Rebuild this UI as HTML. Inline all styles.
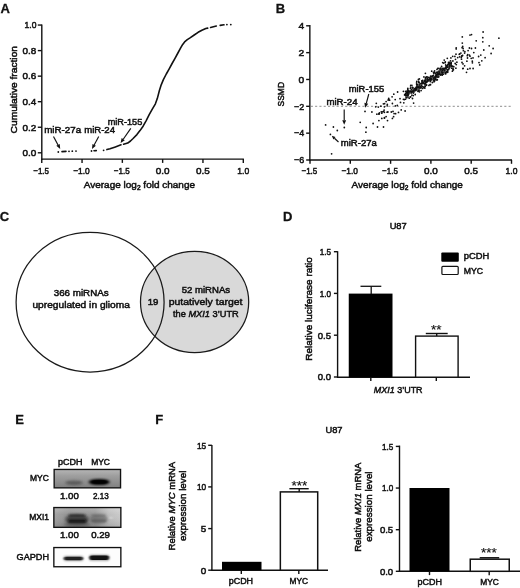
<!DOCTYPE html>
<html><head><meta charset="utf-8"><title>Figure</title>
<style>
html,body{margin:0;padding:0;background:#fff;}
body{width:520px;height:588px;overflow:hidden;}
svg{display:block;font-family:"Liberation Sans", Arial, sans-serif;fill:#111;}
</style></head><body>
<svg width="520" height="588" viewBox="0 0 520 588">
<rect width="520" height="588" fill="#fff"/>
<text x="0.5" y="13" font-size="13" font-weight="bold" stroke="#111" stroke-width="0.3">A</text>
<line x1="41.8" y1="24.4" x2="41.8" y2="159.7" stroke="#111" stroke-width="1.4" />
<line x1="41.199999999999996" y1="159.1" x2="243.9" y2="159.1" stroke="#111" stroke-width="1.4" />
<line x1="37.8" y1="25.05" x2="41.8" y2="25.05" stroke="#111" stroke-width="1.4" />
<text x="36.4" y="28.35" font-size="9.2" text-anchor="end" textLength="11.9" lengthAdjust="spacingAndGlyphs" stroke="#111" stroke-width="0.5">1.0</text>
<line x1="37.8" y1="50.6" x2="41.8" y2="50.6" stroke="#111" stroke-width="1.4" />
<text x="36.4" y="53.9" font-size="9.2" text-anchor="end" textLength="13.8" lengthAdjust="spacingAndGlyphs" stroke="#111" stroke-width="0.5">0.8</text>
<line x1="37.8" y1="76.15" x2="41.8" y2="76.15" stroke="#111" stroke-width="1.4" />
<text x="36.4" y="79.45" font-size="9.2" text-anchor="end" textLength="13.8" lengthAdjust="spacingAndGlyphs" stroke="#111" stroke-width="0.5">0.6</text>
<line x1="37.8" y1="101.7" x2="41.8" y2="101.7" stroke="#111" stroke-width="1.4" />
<text x="36.4" y="105.0" font-size="9.2" text-anchor="end" textLength="13.8" lengthAdjust="spacingAndGlyphs" stroke="#111" stroke-width="0.5">0.4</text>
<line x1="37.8" y1="127.25" x2="41.8" y2="127.25" stroke="#111" stroke-width="1.4" />
<text x="36.4" y="130.55" font-size="9.2" text-anchor="end" textLength="13.8" lengthAdjust="spacingAndGlyphs" stroke="#111" stroke-width="0.5">0.2</text>
<line x1="37.8" y1="152.8" x2="41.8" y2="152.8" stroke="#111" stroke-width="1.4" />
<text x="36.4" y="156.10000000000002" font-size="9.2" text-anchor="end" textLength="13.8" lengthAdjust="spacingAndGlyphs" stroke="#111" stroke-width="0.5">0.0</text>
<line x1="41.75" y1="159.1" x2="41.75" y2="162.9" stroke="#111" stroke-width="1.4" />
<text x="41.15" y="173.6" font-size="9.2" text-anchor="middle" textLength="15.8" lengthAdjust="spacingAndGlyphs" stroke="#111" stroke-width="0.5">−1.5</text>
<line x1="82.05" y1="159.1" x2="82.05" y2="162.9" stroke="#111" stroke-width="1.4" />
<text x="81.45" y="173.6" font-size="9.2" text-anchor="middle" textLength="16.5" lengthAdjust="spacingAndGlyphs" stroke="#111" stroke-width="0.5">−1.0</text>
<line x1="122.35" y1="159.1" x2="122.35" y2="162.9" stroke="#111" stroke-width="1.4" />
<text x="121.75" y="173.6" font-size="9.2" text-anchor="middle" textLength="15.8" lengthAdjust="spacingAndGlyphs" stroke="#111" stroke-width="0.5">−1.5</text>
<line x1="162.65" y1="159.1" x2="162.65" y2="162.9" stroke="#111" stroke-width="1.4" />
<text x="162.65" y="173.6" font-size="9.2" text-anchor="middle" textLength="13.8" lengthAdjust="spacingAndGlyphs" stroke="#111" stroke-width="0.5">0.0</text>
<line x1="202.95" y1="159.1" x2="202.95" y2="162.9" stroke="#111" stroke-width="1.4" />
<text x="202.95" y="173.6" font-size="9.2" text-anchor="middle" textLength="13.8" lengthAdjust="spacingAndGlyphs" stroke="#111" stroke-width="0.5">0.5</text>
<line x1="243.3" y1="159.1" x2="243.3" y2="162.9" stroke="#111" stroke-width="1.4" />
<text x="243.3" y="173.6" font-size="9.2" text-anchor="middle" textLength="11.9" lengthAdjust="spacingAndGlyphs" stroke="#111" stroke-width="0.5">1.0</text>
<text x="16.6" y="89.7" font-size="9.8" text-anchor="middle" textLength="87.4" lengthAdjust="spacingAndGlyphs" transform="rotate(-90 16.6 89.7)" stroke="#111" stroke-width="0.5">Cumulative fraction</text>
<text x="139.4" y="187.6" font-size="9.8" text-anchor="middle" textLength="111.3" lengthAdjust="spacingAndGlyphs" stroke="#111" stroke-width="0.5">Average log<tspan font-size="6.5" dy="2">2</tspan><tspan dy="-2"> fold change</tspan></text>
<polyline fill="none" stroke="#111" stroke-width="1.6" stroke-linejoin="round" stroke-linecap="round" points="106.9,149.6 110,148.8 115.4,146.9 121.0,144.8"/>
<polyline fill="none" stroke="#111" stroke-width="1.6" stroke-linejoin="round" stroke-linecap="round" points="123.6,144.3 127.7,143.1 130.5,141.0 133.1,138.5 136.9,134.6 140,130.6 143.1,126.2 146.2,120.6 149.2,114.6 152.3,109.2 155.4,103.8 157.3,98.6 159.4,90.5 161.3,84.6 163.5,79.4 166.3,74.0 169.2,68.8 172.1,63.5 175,58.3 177.9,53.0 180.8,47.7 182.7,44.4 184.6,41.9 187.3,39.7 190.4,37.7 194.2,35.0 198.1,32.3 201.9,30.2 205.8,28.5 207.7,28.1"/>
<line x1="210.6" y1="27.5" x2="216.3" y2="26.0" stroke="#111" stroke-width="1.6" stroke-linecap="round"/>
<line x1="220.2" y1="25.4" x2="224" y2="24.8" stroke="#111" stroke-width="1.6" stroke-linecap="round"/>
<line x1="62" y1="151.6" x2="66" y2="151.4" stroke="#111" stroke-width="1.6" stroke-linecap="round"/>
<line x1="94" y1="150.8" x2="96.3" y2="150.6" stroke="#111" stroke-width="1.6" stroke-linecap="round"/>
<circle cx="226.9" cy="24.6" r="0.9" fill="#111"/>
<circle cx="230.8" cy="24.6" r="0.9" fill="#111"/>
<circle cx="58.3" cy="152" r="0.9" fill="#111"/>
<circle cx="69" cy="151.3" r="0.9" fill="#111"/>
<circle cx="72.3" cy="151.2" r="0.9" fill="#111"/>
<circle cx="76" cy="151.1" r="0.9" fill="#111"/>
<circle cx="91.5" cy="151" r="0.9" fill="#111"/>
<circle cx="103.6" cy="150.3" r="0.9" fill="#111"/>
<text x="44.2" y="133.2" font-size="9" textLength="37" lengthAdjust="spacingAndGlyphs" stroke="#111" stroke-width="0.5">miR-27a</text>
<text x="84.2" y="133.2" font-size="9" textLength="30.8" lengthAdjust="spacingAndGlyphs" stroke="#111" stroke-width="0.5">miR-24</text>
<text x="107.7" y="124.7" font-size="9" textLength="34.6" lengthAdjust="spacingAndGlyphs" stroke="#111" stroke-width="0.5">miR-155</text>
<line x1="53.5" y1="136.5" x2="58.03" y2="144.95" stroke="#111" stroke-width="1.15" />
<polygon points="60.20,149.00 56.31,145.87 59.75,144.02" fill="#111"/>
<line x1="98.7" y1="136.5" x2="94.17" y2="144.95" stroke="#111" stroke-width="1.15" />
<polygon points="92.00,149.00 92.45,144.02 95.89,145.87" fill="#111"/>
<line x1="130.8" y1="128.3" x2="123.22" y2="139.22" stroke="#111" stroke-width="1.15" />
<polygon points="120.60,143.00 121.62,138.11 124.82,140.33" fill="#111"/>
<text x="275.8" y="12.8" font-size="13" font-weight="bold" stroke="#111" stroke-width="0.3">B</text>
<line x1="309.85" y1="25.1" x2="309.85" y2="160.7" stroke="#111" stroke-width="1.4" />
<line x1="309.25" y1="160" x2="512" y2="160" stroke="#111" stroke-width="1.4" />
<line x1="306.15000000000003" y1="25.8" x2="309.85" y2="25.8" stroke="#111" stroke-width="1.4" />
<text x="304.2" y="29.1" font-size="9.2" text-anchor="end" textLength="5.7" lengthAdjust="spacingAndGlyphs" stroke="#111" stroke-width="0.5">4</text>
<line x1="306.15000000000003" y1="52.64" x2="309.85" y2="52.64" stroke="#111" stroke-width="1.4" />
<text x="304.2" y="55.94" font-size="9.2" text-anchor="end" textLength="5.7" lengthAdjust="spacingAndGlyphs" stroke="#111" stroke-width="0.5">2</text>
<line x1="306.15000000000003" y1="79.48" x2="309.85" y2="79.48" stroke="#111" stroke-width="1.4" />
<text x="304.2" y="82.78" font-size="9.2" text-anchor="end" textLength="5.7" lengthAdjust="spacingAndGlyphs" stroke="#111" stroke-width="0.5">0</text>
<line x1="306.15000000000003" y1="106.32" x2="309.85" y2="106.32" stroke="#111" stroke-width="1.4" />
<text x="304.2" y="109.61999999999999" font-size="9.2" text-anchor="end" textLength="10.2" lengthAdjust="spacingAndGlyphs" stroke="#111" stroke-width="0.5">−2</text>
<line x1="306.15000000000003" y1="133.16" x2="309.85" y2="133.16" stroke="#111" stroke-width="1.4" />
<text x="304.2" y="136.46" font-size="9.2" text-anchor="end" textLength="10.2" lengthAdjust="spacingAndGlyphs" stroke="#111" stroke-width="0.5">−4</text>
<line x1="306.15000000000003" y1="160" x2="309.85" y2="160" stroke="#111" stroke-width="1.4" />
<text x="304.2" y="163.3" font-size="9.2" text-anchor="end" textLength="10.2" lengthAdjust="spacingAndGlyphs" stroke="#111" stroke-width="0.5">−6</text>
<line x1="310" y1="160" x2="310" y2="163.8" stroke="#111" stroke-width="1.4" />
<text x="309.4" y="173.6" font-size="9.2" text-anchor="middle" textLength="15.8" lengthAdjust="spacingAndGlyphs" stroke="#111" stroke-width="0.5">−1.5</text>
<line x1="350.3" y1="160" x2="350.3" y2="163.8" stroke="#111" stroke-width="1.4" />
<text x="349.7" y="173.6" font-size="9.2" text-anchor="middle" textLength="16.5" lengthAdjust="spacingAndGlyphs" stroke="#111" stroke-width="0.5">−1.0</text>
<line x1="390.6" y1="160" x2="390.6" y2="163.8" stroke="#111" stroke-width="1.4" />
<text x="390.0" y="173.6" font-size="9.2" text-anchor="middle" textLength="15.8" lengthAdjust="spacingAndGlyphs" stroke="#111" stroke-width="0.5">−1.5</text>
<line x1="430.9" y1="160" x2="430.9" y2="163.8" stroke="#111" stroke-width="1.4" />
<text x="430.9" y="173.6" font-size="9.2" text-anchor="middle" textLength="13.8" lengthAdjust="spacingAndGlyphs" stroke="#111" stroke-width="0.5">0.0</text>
<line x1="471.2" y1="160" x2="471.2" y2="163.8" stroke="#111" stroke-width="1.4" />
<text x="471.2" y="173.6" font-size="9.2" text-anchor="middle" textLength="13.8" lengthAdjust="spacingAndGlyphs" stroke="#111" stroke-width="0.5">0.5</text>
<line x1="511.5" y1="160" x2="511.5" y2="163.8" stroke="#111" stroke-width="1.4" />
<text x="511.5" y="173.6" font-size="9.2" text-anchor="middle" textLength="11.9" lengthAdjust="spacingAndGlyphs" stroke="#111" stroke-width="0.5">1.0</text>
<text x="284" y="94.2" font-size="9.8" text-anchor="middle" textLength="24.4" lengthAdjust="spacingAndGlyphs" transform="rotate(-90 284 94.2)" stroke="#111" stroke-width="0.5">SSMD</text>
<text x="407.2" y="187.6" font-size="9.8" text-anchor="middle" textLength="111.3" lengthAdjust="spacingAndGlyphs" stroke="#111" stroke-width="0.5">Average log<tspan font-size="6.5" dy="2">2</tspan><tspan dy="-2"> fold change</tspan></text>
<line x1="310.8" y1="106.3" x2="512" y2="106.3" stroke="#808080" stroke-width="0.9" stroke-dasharray="2.1 2.2"/>
<circle cx="325.6" cy="124.9" r="0.88" fill="#111"/>
<circle cx="333.4" cy="127.0" r="0.88" fill="#111"/>
<circle cx="337.3" cy="130.5" r="0.88" fill="#111"/>
<circle cx="344.3" cy="127.5" r="0.88" fill="#111"/>
<circle cx="330.4" cy="134.4" r="0.88" fill="#111"/>
<circle cx="331.6" cy="153.8" r="0.88" fill="#111"/>
<circle cx="360.2" cy="122.3" r="0.88" fill="#111"/>
<circle cx="366.2" cy="127.5" r="0.88" fill="#111"/>
<circle cx="365.9" cy="132.2" r="0.88" fill="#111"/>
<circle cx="365.0" cy="111.4" r="0.88" fill="#111"/>
<circle cx="371.9" cy="112.0" r="0.88" fill="#111"/>
<circle cx="373.1" cy="123.5" r="0.88" fill="#111"/>
<circle cx="377.5" cy="127.0" r="0.88" fill="#111"/>
<circle cx="383.5" cy="127.0" r="0.88" fill="#111"/>
<circle cx="378.9" cy="120.6" r="0.88" fill="#111"/>
<circle cx="381.8" cy="118.4" r="0.88" fill="#111"/>
<circle cx="386.1" cy="116.6" r="0.88" fill="#111"/>
<circle cx="387.5" cy="120.6" r="0.88" fill="#111"/>
<circle cx="378.9" cy="114.0" r="0.88" fill="#111"/>
<circle cx="381.8" cy="113.2" r="0.88" fill="#111"/>
<circle cx="384.4" cy="112.3" r="0.88" fill="#111"/>
<circle cx="387.9" cy="112.0" r="0.88" fill="#111"/>
<circle cx="391.3" cy="112.0" r="0.88" fill="#111"/>
<circle cx="393.0" cy="111.4" r="0.88" fill="#111"/>
<circle cx="395.6" cy="113.7" r="0.88" fill="#111"/>
<circle cx="375.7" cy="106.8" r="0.88" fill="#111"/>
<circle cx="378.3" cy="107.1" r="0.88" fill="#111"/>
<circle cx="380.9" cy="106.2" r="0.88" fill="#111"/>
<circle cx="384.4" cy="106.8" r="0.88" fill="#111"/>
<circle cx="376.3" cy="103.3" r="0.88" fill="#111"/>
<circle cx="386.1" cy="101.6" r="0.88" fill="#111"/>
<circle cx="389.6" cy="100.2" r="0.88" fill="#111"/>
<circle cx="388.7" cy="98.5" r="0.88" fill="#111"/>
<circle cx="498.9" cy="38.2" r="0.88" fill="#111"/>
<circle cx="483.1" cy="32.0" r="0.88" fill="#111"/>
<circle cx="482.8" cy="37.7" r="0.88" fill="#111"/>
<circle cx="482.8" cy="41.8" r="0.88" fill="#111"/>
<circle cx="471.5" cy="34.6" r="0.88" fill="#111"/>
<circle cx="470.0" cy="35.1" r="0.88" fill="#111"/>
<circle cx="462.3" cy="36.9" r="0.88" fill="#111"/>
<circle cx="462.3" cy="43.1" r="0.88" fill="#111"/>
<circle cx="476.2" cy="40.8" r="0.88" fill="#111"/>
<circle cx="475.4" cy="48.0" r="0.88" fill="#111"/>
<circle cx="489.2" cy="45.8" r="0.88" fill="#111"/>
<circle cx="493.1" cy="48.5" r="0.88" fill="#111"/>
<circle cx="491.1" cy="53.5" r="0.88" fill="#111"/>
<circle cx="483.8" cy="50.0" r="0.88" fill="#111"/>
<circle cx="480.8" cy="55.1" r="0.88" fill="#111"/>
<circle cx="485.1" cy="57.7" r="0.88" fill="#111"/>
<circle cx="481.8" cy="60.8" r="0.88" fill="#111"/>
<circle cx="479.7" cy="64.9" r="0.88" fill="#111"/>
<circle cx="471.5" cy="48.5" r="0.88" fill="#111"/>
<circle cx="473.8" cy="52.6" r="0.88" fill="#111"/>
<circle cx="470.0" cy="56.2" r="0.88" fill="#111"/>
<circle cx="472.3" cy="61.2" r="0.88" fill="#111"/>
<circle cx="466.9" cy="61.2" r="0.88" fill="#111"/>
<circle cx="464.6" cy="65.8" r="0.88" fill="#111"/>
<circle cx="467.7" cy="69.2" r="0.88" fill="#111"/>
<circle cx="470.0" cy="68.5" r="0.88" fill="#111"/>
<circle cx="473.1" cy="68.5" r="0.88" fill="#111"/>
<circle cx="466.5" cy="72.3" r="0.88" fill="#111"/>
<circle cx="456.2" cy="48.9" r="0.88" fill="#111"/>
<circle cx="463.1" cy="48.5" r="0.88" fill="#111"/>
<circle cx="464.6" cy="53.1" r="0.88" fill="#111"/>
<circle cx="467.7" cy="54.6" r="0.88" fill="#111"/>
<circle cx="461.5" cy="59.2" r="0.88" fill="#111"/>
<circle cx="406.1" cy="97.2" r="0.88" fill="#111"/>
<circle cx="406.7" cy="97.8" r="0.88" fill="#111"/>
<circle cx="405.1" cy="94.8" r="0.88" fill="#111"/>
<circle cx="405.9" cy="95.7" r="0.88" fill="#111"/>
<circle cx="405.2" cy="94.4" r="0.88" fill="#111"/>
<circle cx="406.0" cy="95.3" r="0.88" fill="#111"/>
<circle cx="406.3" cy="95.3" r="0.88" fill="#111"/>
<circle cx="405.6" cy="93.8" r="0.88" fill="#111"/>
<circle cx="408.0" cy="97.1" r="0.88" fill="#111"/>
<circle cx="405.9" cy="93.7" r="0.88" fill="#111"/>
<circle cx="409.2" cy="98.2" r="0.88" fill="#111"/>
<circle cx="407.5" cy="95.5" r="0.88" fill="#111"/>
<circle cx="407.8" cy="95.6" r="0.88" fill="#111"/>
<circle cx="407.9" cy="95.3" r="0.88" fill="#111"/>
<circle cx="405.6" cy="91.5" r="0.88" fill="#111"/>
<circle cx="406.5" cy="92.5" r="0.88" fill="#111"/>
<circle cx="408.1" cy="94.5" r="0.88" fill="#111"/>
<circle cx="407.9" cy="94.0" r="0.88" fill="#111"/>
<circle cx="407.0" cy="92.0" r="0.88" fill="#111"/>
<circle cx="408.6" cy="94.3" r="0.88" fill="#111"/>
<circle cx="407.5" cy="92.3" r="0.88" fill="#111"/>
<circle cx="410.7" cy="96.8" r="0.88" fill="#111"/>
<circle cx="407.1" cy="91.0" r="0.88" fill="#111"/>
<circle cx="408.1" cy="92.0" r="0.88" fill="#111"/>
<circle cx="408.1" cy="91.6" r="0.88" fill="#111"/>
<circle cx="412.5" cy="98.5" r="0.88" fill="#111"/>
<circle cx="409.2" cy="92.9" r="0.88" fill="#111"/>
<circle cx="408.6" cy="91.5" r="0.88" fill="#111"/>
<circle cx="408.4" cy="90.9" r="0.88" fill="#111"/>
<circle cx="407.8" cy="89.5" r="0.88" fill="#111"/>
<circle cx="409.1" cy="91.1" r="0.88" fill="#111"/>
<circle cx="411.9" cy="95.2" r="0.88" fill="#111"/>
<circle cx="407.8" cy="88.4" r="0.88" fill="#111"/>
<circle cx="411.1" cy="93.1" r="0.88" fill="#111"/>
<circle cx="410.2" cy="91.6" r="0.88" fill="#111"/>
<circle cx="410.3" cy="91.3" r="0.88" fill="#111"/>
<circle cx="413.3" cy="95.6" r="0.88" fill="#111"/>
<circle cx="410.8" cy="91.6" r="0.88" fill="#111"/>
<circle cx="411.0" cy="91.4" r="0.88" fill="#111"/>
<circle cx="411.0" cy="91.1" r="0.88" fill="#111"/>
<circle cx="411.7" cy="92.0" r="0.88" fill="#111"/>
<circle cx="412.0" cy="91.7" r="0.88" fill="#111"/>
<circle cx="411.7" cy="91.3" r="0.88" fill="#111"/>
<circle cx="413.3" cy="93.1" r="0.88" fill="#111"/>
<circle cx="410.4" cy="88.6" r="0.88" fill="#111"/>
<circle cx="412.8" cy="91.7" r="0.88" fill="#111"/>
<circle cx="413.1" cy="91.8" r="0.88" fill="#111"/>
<circle cx="411.7" cy="89.4" r="0.88" fill="#111"/>
<circle cx="415.2" cy="94.5" r="0.88" fill="#111"/>
<circle cx="410.6" cy="87.1" r="0.88" fill="#111"/>
<circle cx="413.1" cy="90.6" r="0.88" fill="#111"/>
<circle cx="414.1" cy="91.8" r="0.88" fill="#111"/>
<circle cx="413.4" cy="90.2" r="0.88" fill="#111"/>
<circle cx="413.6" cy="90.3" r="0.88" fill="#111"/>
<circle cx="410.7" cy="85.3" r="0.88" fill="#111"/>
<circle cx="412.5" cy="87.8" r="0.88" fill="#111"/>
<circle cx="412.5" cy="87.5" r="0.88" fill="#111"/>
<circle cx="412.7" cy="87.6" r="0.88" fill="#111"/>
<circle cx="414.9" cy="90.3" r="0.88" fill="#111"/>
<circle cx="411.9" cy="85.3" r="0.88" fill="#111"/>
<circle cx="414.1" cy="88.6" r="0.88" fill="#111"/>
<circle cx="415.2" cy="89.8" r="0.88" fill="#111"/>
<circle cx="415.7" cy="90.5" r="0.88" fill="#111"/>
<circle cx="415.4" cy="89.7" r="0.88" fill="#111"/>
<circle cx="415.3" cy="89.0" r="0.88" fill="#111"/>
<circle cx="415.4" cy="88.9" r="0.88" fill="#111"/>
<circle cx="415.3" cy="88.5" r="0.88" fill="#111"/>
<circle cx="416.0" cy="89.0" r="0.88" fill="#111"/>
<circle cx="416.5" cy="89.5" r="0.88" fill="#111"/>
<circle cx="416.8" cy="89.7" r="0.88" fill="#111"/>
<circle cx="418.0" cy="91.3" r="0.88" fill="#111"/>
<circle cx="418.3" cy="91.0" r="0.88" fill="#111"/>
<circle cx="416.0" cy="87.3" r="0.88" fill="#111"/>
<circle cx="416.7" cy="88.2" r="0.88" fill="#111"/>
<circle cx="416.6" cy="87.6" r="0.88" fill="#111"/>
<circle cx="419.4" cy="91.8" r="0.88" fill="#111"/>
<circle cx="418.7" cy="90.2" r="0.88" fill="#111"/>
<circle cx="416.8" cy="86.9" r="0.88" fill="#111"/>
<circle cx="419.1" cy="90.1" r="0.88" fill="#111"/>
<circle cx="418.0" cy="87.8" r="0.88" fill="#111"/>
<circle cx="417.5" cy="86.8" r="0.88" fill="#111"/>
<circle cx="417.0" cy="85.7" r="0.88" fill="#111"/>
<circle cx="418.3" cy="87.5" r="0.88" fill="#111"/>
<circle cx="416.7" cy="84.4" r="0.88" fill="#111"/>
<circle cx="418.8" cy="87.6" r="0.88" fill="#111"/>
<circle cx="421.1" cy="90.6" r="0.88" fill="#111"/>
<circle cx="419.7" cy="88.0" r="0.88" fill="#111"/>
<circle cx="416.6" cy="83.0" r="0.88" fill="#111"/>
<circle cx="417.8" cy="84.6" r="0.88" fill="#111"/>
<circle cx="419.0" cy="86.3" r="0.88" fill="#111"/>
<circle cx="419.1" cy="86.1" r="0.88" fill="#111"/>
<circle cx="420.6" cy="87.8" r="0.88" fill="#111"/>
<circle cx="416.8" cy="81.4" r="0.88" fill="#111"/>
<circle cx="421.0" cy="87.6" r="0.88" fill="#111"/>
<circle cx="419.5" cy="84.9" r="0.88" fill="#111"/>
<circle cx="420.9" cy="87.0" r="0.88" fill="#111"/>
<circle cx="420.8" cy="86.6" r="0.88" fill="#111"/>
<circle cx="422.4" cy="88.4" r="0.88" fill="#111"/>
<circle cx="418.8" cy="82.4" r="0.88" fill="#111"/>
<circle cx="421.1" cy="85.8" r="0.88" fill="#111"/>
<circle cx="419.4" cy="82.9" r="0.88" fill="#111"/>
<circle cx="418.7" cy="81.3" r="0.88" fill="#111"/>
<circle cx="420.5" cy="83.8" r="0.88" fill="#111"/>
<circle cx="421.6" cy="85.2" r="0.88" fill="#111"/>
<circle cx="422.7" cy="86.7" r="0.88" fill="#111"/>
<circle cx="418.4" cy="79.5" r="0.88" fill="#111"/>
<circle cx="424.0" cy="87.9" r="0.88" fill="#111"/>
<circle cx="421.3" cy="83.5" r="0.88" fill="#111"/>
<circle cx="423.9" cy="87.2" r="0.88" fill="#111"/>
<circle cx="424.9" cy="88.1" r="0.88" fill="#111"/>
<circle cx="424.3" cy="87.1" r="0.88" fill="#111"/>
<circle cx="419.4" cy="78.9" r="0.88" fill="#111"/>
<circle cx="422.2" cy="83.0" r="0.88" fill="#111"/>
<circle cx="422.8" cy="83.7" r="0.88" fill="#111"/>
<circle cx="422.3" cy="82.3" r="0.88" fill="#111"/>
<circle cx="422.1" cy="81.7" r="0.88" fill="#111"/>
<circle cx="425.3" cy="86.4" r="0.88" fill="#111"/>
<circle cx="421.8" cy="80.8" r="0.88" fill="#111"/>
<circle cx="423.5" cy="83.1" r="0.88" fill="#111"/>
<circle cx="425.0" cy="84.9" r="0.88" fill="#111"/>
<circle cx="423.5" cy="82.3" r="0.88" fill="#111"/>
<circle cx="424.7" cy="83.7" r="0.88" fill="#111"/>
<circle cx="422.7" cy="80.4" r="0.88" fill="#111"/>
<circle cx="425.2" cy="83.7" r="0.88" fill="#111"/>
<circle cx="426.2" cy="85.1" r="0.88" fill="#111"/>
<circle cx="424.2" cy="81.5" r="0.88" fill="#111"/>
<circle cx="426.6" cy="85.0" r="0.88" fill="#111"/>
<circle cx="425.4" cy="82.9" r="0.88" fill="#111"/>
<circle cx="425.6" cy="82.9" r="0.88" fill="#111"/>
<circle cx="424.8" cy="81.1" r="0.88" fill="#111"/>
<circle cx="424.7" cy="80.5" r="0.88" fill="#111"/>
<circle cx="425.5" cy="81.5" r="0.88" fill="#111"/>
<circle cx="426.2" cy="82.3" r="0.88" fill="#111"/>
<circle cx="425.6" cy="81.0" r="0.88" fill="#111"/>
<circle cx="426.0" cy="81.3" r="0.88" fill="#111"/>
<circle cx="428.9" cy="85.4" r="0.88" fill="#111"/>
<circle cx="426.9" cy="82.0" r="0.88" fill="#111"/>
<circle cx="423.9" cy="76.9" r="0.88" fill="#111"/>
<circle cx="425.4" cy="78.9" r="0.88" fill="#111"/>
<circle cx="427.2" cy="81.3" r="0.88" fill="#111"/>
<circle cx="425.8" cy="78.9" r="0.88" fill="#111"/>
<circle cx="427.3" cy="80.6" r="0.88" fill="#111"/>
<circle cx="430.0" cy="84.7" r="0.88" fill="#111"/>
<circle cx="425.5" cy="77.4" r="0.88" fill="#111"/>
<circle cx="430.5" cy="84.7" r="0.88" fill="#111"/>
<circle cx="427.2" cy="79.4" r="0.88" fill="#111"/>
<circle cx="427.8" cy="79.9" r="0.88" fill="#111"/>
<circle cx="428.6" cy="80.9" r="0.88" fill="#111"/>
<circle cx="427.4" cy="78.7" r="0.88" fill="#111"/>
<circle cx="426.8" cy="77.0" r="0.88" fill="#111"/>
<circle cx="428.5" cy="79.6" r="0.88" fill="#111"/>
<circle cx="427.1" cy="77.1" r="0.88" fill="#111"/>
<circle cx="430.3" cy="81.5" r="0.88" fill="#111"/>
<circle cx="429.3" cy="79.6" r="0.88" fill="#111"/>
<circle cx="425.4" cy="73.3" r="0.88" fill="#111"/>
<circle cx="430.1" cy="80.2" r="0.88" fill="#111"/>
<circle cx="428.3" cy="77.3" r="0.88" fill="#111"/>
<circle cx="430.7" cy="80.6" r="0.88" fill="#111"/>
<circle cx="429.3" cy="78.0" r="0.88" fill="#111"/>
<circle cx="432.3" cy="82.5" r="0.88" fill="#111"/>
<circle cx="430.3" cy="78.8" r="0.88" fill="#111"/>
<circle cx="430.8" cy="79.3" r="0.88" fill="#111"/>
<circle cx="430.4" cy="78.2" r="0.88" fill="#111"/>
<circle cx="431.1" cy="78.8" r="0.88" fill="#111"/>
<circle cx="431.9" cy="79.8" r="0.88" fill="#111"/>
<circle cx="431.2" cy="78.6" r="0.88" fill="#111"/>
<circle cx="431.6" cy="79.0" r="0.88" fill="#111"/>
<circle cx="430.5" cy="76.9" r="0.88" fill="#111"/>
<circle cx="434.0" cy="81.8" r="0.88" fill="#111"/>
<circle cx="430.6" cy="76.2" r="0.88" fill="#111"/>
<circle cx="433.8" cy="80.6" r="0.88" fill="#111"/>
<circle cx="431.4" cy="76.8" r="0.88" fill="#111"/>
<circle cx="434.5" cy="81.0" r="0.88" fill="#111"/>
<circle cx="433.4" cy="79.0" r="0.88" fill="#111"/>
<circle cx="434.6" cy="80.6" r="0.88" fill="#111"/>
<circle cx="432.1" cy="76.5" r="0.88" fill="#111"/>
<circle cx="433.3" cy="78.1" r="0.88" fill="#111"/>
<circle cx="432.8" cy="76.8" r="0.88" fill="#111"/>
<circle cx="432.3" cy="75.9" r="0.88" fill="#111"/>
<circle cx="435.2" cy="79.4" r="0.88" fill="#111"/>
<circle cx="434.9" cy="78.9" r="0.88" fill="#111"/>
<circle cx="435.1" cy="78.9" r="0.88" fill="#111"/>
<circle cx="434.2" cy="77.3" r="0.88" fill="#111"/>
<circle cx="434.5" cy="77.4" r="0.88" fill="#111"/>
<circle cx="433.4" cy="75.5" r="0.88" fill="#111"/>
<circle cx="436.8" cy="79.9" r="0.88" fill="#111"/>
<circle cx="435.2" cy="77.3" r="0.88" fill="#111"/>
<circle cx="435.9" cy="78.1" r="0.88" fill="#111"/>
<circle cx="437.3" cy="79.7" r="0.88" fill="#111"/>
<circle cx="435.3" cy="76.4" r="0.88" fill="#111"/>
<circle cx="431.7" cy="71.2" r="0.88" fill="#111"/>
<circle cx="435.8" cy="76.7" r="0.88" fill="#111"/>
<circle cx="433.9" cy="73.5" r="0.88" fill="#111"/>
<circle cx="436.4" cy="76.7" r="0.88" fill="#111"/>
<circle cx="433.5" cy="72.4" r="0.88" fill="#111"/>
<circle cx="435.9" cy="75.3" r="0.88" fill="#111"/>
<circle cx="437.3" cy="77.0" r="0.88" fill="#111"/>
<circle cx="434.2" cy="72.4" r="0.88" fill="#111"/>
<circle cx="436.1" cy="74.7" r="0.88" fill="#111"/>
<circle cx="436.9" cy="75.6" r="0.88" fill="#111"/>
<circle cx="436.6" cy="74.9" r="0.88" fill="#111"/>
<circle cx="435.7" cy="73.2" r="0.88" fill="#111"/>
<circle cx="438.6" cy="77.1" r="0.88" fill="#111"/>
<circle cx="434.6" cy="71.0" r="0.88" fill="#111"/>
<circle cx="437.4" cy="74.6" r="0.88" fill="#111"/>
<circle cx="438.8" cy="76.1" r="0.88" fill="#111"/>
<circle cx="436.5" cy="72.7" r="0.88" fill="#111"/>
<circle cx="438.3" cy="74.7" r="0.88" fill="#111"/>
<circle cx="436.9" cy="72.5" r="0.88" fill="#111"/>
<circle cx="437.9" cy="73.4" r="0.88" fill="#111"/>
<circle cx="438.2" cy="73.8" r="0.88" fill="#111"/>
<circle cx="438.5" cy="73.8" r="0.88" fill="#111"/>
<circle cx="437.5" cy="72.2" r="0.88" fill="#111"/>
<circle cx="438.7" cy="73.5" r="0.88" fill="#111"/>
<circle cx="438.7" cy="73.4" r="0.88" fill="#111"/>
<circle cx="439.7" cy="74.2" r="0.88" fill="#111"/>
<circle cx="440.4" cy="75.0" r="0.88" fill="#111"/>
<circle cx="439.5" cy="73.3" r="0.88" fill="#111"/>
<circle cx="437.0" cy="69.4" r="0.88" fill="#111"/>
<circle cx="439.2" cy="72.2" r="0.88" fill="#111"/>
<circle cx="440.9" cy="74.2" r="0.88" fill="#111"/>
<circle cx="438.9" cy="71.2" r="0.88" fill="#111"/>
<circle cx="441.6" cy="74.5" r="0.88" fill="#111"/>
<circle cx="442.3" cy="75.1" r="0.88" fill="#111"/>
<circle cx="442.0" cy="74.6" r="0.88" fill="#111"/>
<circle cx="437.8" cy="68.3" r="0.88" fill="#111"/>
<circle cx="441.1" cy="72.5" r="0.88" fill="#111"/>
<circle cx="440.1" cy="70.9" r="0.88" fill="#111"/>
<circle cx="442.4" cy="73.8" r="0.88" fill="#111"/>
<circle cx="438.9" cy="68.4" r="0.88" fill="#111"/>
<circle cx="443.2" cy="74.2" r="0.88" fill="#111"/>
<circle cx="440.1" cy="69.5" r="0.88" fill="#111"/>
<circle cx="442.4" cy="72.6" r="0.88" fill="#111"/>
<circle cx="441.9" cy="71.5" r="0.88" fill="#111"/>
<circle cx="442.9" cy="72.6" r="0.88" fill="#111"/>
<circle cx="440.4" cy="68.7" r="0.88" fill="#111"/>
<circle cx="441.5" cy="69.9" r="0.88" fill="#111"/>
<circle cx="440.7" cy="68.7" r="0.88" fill="#111"/>
<circle cx="442.6" cy="70.7" r="0.88" fill="#111"/>
<circle cx="440.9" cy="68.1" r="0.88" fill="#111"/>
<circle cx="445.2" cy="73.7" r="0.88" fill="#111"/>
<circle cx="444.0" cy="71.9" r="0.88" fill="#111"/>
<circle cx="442.9" cy="70.0" r="0.88" fill="#111"/>
<circle cx="445.8" cy="73.7" r="0.88" fill="#111"/>
<circle cx="445.3" cy="72.5" r="0.88" fill="#111"/>
<circle cx="443.3" cy="69.6" r="0.88" fill="#111"/>
<circle cx="442.7" cy="68.4" r="0.88" fill="#111"/>
<circle cx="441.6" cy="66.4" r="0.88" fill="#111"/>
<circle cx="444.9" cy="70.7" r="0.88" fill="#111"/>
<circle cx="444.6" cy="70.1" r="0.88" fill="#111"/>
<circle cx="443.8" cy="68.5" r="0.88" fill="#111"/>
<circle cx="446.4" cy="72.0" r="0.88" fill="#111"/>
<circle cx="444.4" cy="68.9" r="0.88" fill="#111"/>
<circle cx="447.2" cy="72.3" r="0.88" fill="#111"/>
<circle cx="444.6" cy="68.3" r="0.88" fill="#111"/>
<circle cx="447.0" cy="71.4" r="0.88" fill="#111"/>
<circle cx="447.7" cy="72.1" r="0.88" fill="#111"/>
<circle cx="447.6" cy="71.8" r="0.88" fill="#111"/>
<circle cx="446.0" cy="68.9" r="0.88" fill="#111"/>
<circle cx="445.7" cy="68.3" r="0.88" fill="#111"/>
<circle cx="447.6" cy="70.6" r="0.88" fill="#111"/>
<circle cx="445.7" cy="67.8" r="0.88" fill="#111"/>
<circle cx="447.2" cy="69.6" r="0.88" fill="#111"/>
<circle cx="446.1" cy="67.5" r="0.88" fill="#111"/>
<circle cx="442.7" cy="62.6" r="0.88" fill="#111"/>
<circle cx="446.1" cy="67.0" r="0.88" fill="#111"/>
<circle cx="443.7" cy="63.1" r="0.88" fill="#111"/>
<circle cx="446.9" cy="67.3" r="0.88" fill="#111"/>
<circle cx="448.6" cy="69.5" r="0.88" fill="#111"/>
<circle cx="446.2" cy="65.9" r="0.88" fill="#111"/>
<circle cx="445.7" cy="64.9" r="0.88" fill="#111"/>
<circle cx="447.7" cy="67.3" r="0.88" fill="#111"/>
<circle cx="447.0" cy="66.0" r="0.88" fill="#111"/>
<circle cx="449.1" cy="68.4" r="0.88" fill="#111"/>
<circle cx="448.0" cy="66.9" r="0.88" fill="#111"/>
<circle cx="445.2" cy="62.6" r="0.88" fill="#111"/>
<circle cx="447.7" cy="65.5" r="0.88" fill="#111"/>
<circle cx="445.3" cy="61.9" r="0.88" fill="#111"/>
<circle cx="444.2" cy="60.1" r="0.88" fill="#111"/>
<circle cx="452.4" cy="71.2" r="0.88" fill="#111"/>
<circle cx="447.9" cy="64.6" r="0.88" fill="#111"/>
<circle cx="449.6" cy="66.8" r="0.88" fill="#111"/>
<circle cx="449.9" cy="66.9" r="0.88" fill="#111"/>
<circle cx="448.4" cy="64.2" r="0.88" fill="#111"/>
<circle cx="449.4" cy="65.5" r="0.88" fill="#111"/>
<circle cx="451.6" cy="68.2" r="0.88" fill="#111"/>
<circle cx="453.0" cy="69.9" r="0.88" fill="#111"/>
<circle cx="449.2" cy="64.1" r="0.88" fill="#111"/>
<circle cx="453.4" cy="69.7" r="0.88" fill="#111"/>
<circle cx="448.5" cy="62.5" r="0.88" fill="#111"/>
<circle cx="453.0" cy="68.4" r="0.88" fill="#111"/>
<circle cx="451.5" cy="66.0" r="0.88" fill="#111"/>
<circle cx="450.1" cy="63.7" r="0.88" fill="#111"/>
<circle cx="449.9" cy="63.3" r="0.88" fill="#111"/>
<circle cx="452.5" cy="66.3" r="0.88" fill="#111"/>
<circle cx="452.6" cy="66.3" r="0.88" fill="#111"/>
<circle cx="451.1" cy="64.0" r="0.88" fill="#111"/>
<circle cx="447.3" cy="58.3" r="0.88" fill="#111"/>
<circle cx="451.2" cy="63.3" r="0.88" fill="#111"/>
<circle cx="453.8" cy="66.7" r="0.88" fill="#111"/>
<circle cx="376.9" cy="114.2" r="0.88" fill="#111"/>
<circle cx="379.1" cy="113.9" r="0.88" fill="#111"/>
<circle cx="379.4" cy="113.0" r="0.88" fill="#111"/>
<circle cx="384.4" cy="118.1" r="0.88" fill="#111"/>
<circle cx="381.3" cy="111.8" r="0.88" fill="#111"/>
<circle cx="382.2" cy="111.8" r="0.88" fill="#111"/>
<circle cx="383.6" cy="111.4" r="0.88" fill="#111"/>
<circle cx="384.1" cy="110.1" r="0.88" fill="#111"/>
<circle cx="387.1" cy="112.2" r="0.88" fill="#111"/>
<circle cx="383.4" cy="103.8" r="0.88" fill="#111"/>
<circle cx="384.6" cy="103.7" r="0.88" fill="#111"/>
<circle cx="387.2" cy="105.8" r="0.88" fill="#111"/>
<circle cx="387.3" cy="104.4" r="0.88" fill="#111"/>
<circle cx="394.1" cy="113.6" r="0.88" fill="#111"/>
<circle cx="388.1" cy="100.1" r="0.88" fill="#111"/>
<circle cx="388.7" cy="99.5" r="0.88" fill="#111"/>
<circle cx="392.4" cy="103.5" r="0.88" fill="#111"/>
<circle cx="395.4" cy="105.9" r="0.88" fill="#111"/>
<circle cx="397.3" cy="105.3" r="0.88" fill="#111"/>
<circle cx="392.1" cy="96.8" r="0.88" fill="#111"/>
<circle cx="395.2" cy="99.6" r="0.88" fill="#111"/>
<circle cx="393.8" cy="94.2" r="0.88" fill="#111"/>
<circle cx="400.5" cy="102.4" r="0.88" fill="#111"/>
<circle cx="400.0" cy="98.7" r="0.88" fill="#111"/>
<circle cx="403.8" cy="102.8" r="0.88" fill="#111"/>
<circle cx="397.6" cy="92.0" r="0.88" fill="#111"/>
<circle cx="403.4" cy="99.3" r="0.88" fill="#111"/>
<circle cx="405.5" cy="99.2" r="0.88" fill="#111"/>
<circle cx="404.6" cy="94.9" r="0.88" fill="#111"/>
<circle cx="403.4" cy="91.3" r="0.88" fill="#111"/>
<circle cx="406.0" cy="94.0" r="0.88" fill="#111"/>
<circle cx="407.7" cy="93.6" r="0.88" fill="#111"/>
<circle cx="410.3" cy="96.9" r="0.88" fill="#111"/>
<circle cx="408.2" cy="91.1" r="0.88" fill="#111"/>
<circle cx="384.5" cy="117.7" r="0.88" fill="#111"/>
<circle cx="392.4" cy="118.4" r="0.88" fill="#111"/>
<circle cx="393.6" cy="116.7" r="0.88" fill="#111"/>
<circle cx="398.5" cy="112.4" r="0.88" fill="#111"/>
<circle cx="401.2" cy="109.9" r="0.88" fill="#111"/>
<circle cx="405.1" cy="111.0" r="0.88" fill="#111"/>
<circle cx="404.4" cy="99.6" r="0.88" fill="#111"/>
<circle cx="413.6" cy="103.1" r="0.88" fill="#111"/>
<circle cx="448.8" cy="64.0" r="0.88" fill="#111"/>
<circle cx="450.9" cy="65.5" r="0.88" fill="#111"/>
<circle cx="451.0" cy="63.7" r="0.88" fill="#111"/>
<circle cx="449.6" cy="62.4" r="0.88" fill="#111"/>
<circle cx="451.2" cy="62.3" r="0.88" fill="#111"/>
<circle cx="450.5" cy="60.8" r="0.88" fill="#111"/>
<circle cx="455.2" cy="63.5" r="0.88" fill="#111"/>
<circle cx="452.9" cy="61.0" r="0.88" fill="#111"/>
<circle cx="450.9" cy="57.9" r="0.88" fill="#111"/>
<circle cx="456.9" cy="62.2" r="0.88" fill="#111"/>
<circle cx="455.5" cy="59.3" r="0.88" fill="#111"/>
<circle cx="452.7" cy="56.3" r="0.88" fill="#111"/>
<circle cx="454.9" cy="56.4" r="0.88" fill="#111"/>
<circle cx="462.0" cy="62.5" r="0.88" fill="#111"/>
<circle cx="457.7" cy="57.6" r="0.88" fill="#111"/>
<circle cx="456.0" cy="54.2" r="0.88" fill="#111"/>
<circle cx="459.6" cy="56.8" r="0.88" fill="#111"/>
<circle cx="461.3" cy="57.4" r="0.88" fill="#111"/>
<circle cx="461.6" cy="56.3" r="0.88" fill="#111"/>
<circle cx="459.8" cy="53.9" r="0.88" fill="#111"/>
<circle cx="462.6" cy="55.4" r="0.88" fill="#111"/>
<circle cx="460.9" cy="53.1" r="0.88" fill="#111"/>
<circle cx="456.2" cy="47.8" r="0.88" fill="#111"/>
<circle cx="467.3" cy="55.7" r="0.88" fill="#111"/>
<circle cx="471.2" cy="58.3" r="0.88" fill="#111"/>
<circle cx="463.4" cy="50.7" r="0.88" fill="#111"/>
<circle cx="469.4" cy="55.1" r="0.88" fill="#111"/>
<circle cx="462.1" cy="47.7" r="0.88" fill="#111"/>
<circle cx="462.7" cy="46.5" r="0.88" fill="#111"/>
<circle cx="468.1" cy="50.6" r="0.88" fill="#111"/>
<circle cx="455.9" cy="68.2" r="0.88" fill="#111"/>
<circle cx="456.3" cy="64.6" r="0.88" fill="#111"/>
<circle cx="462.8" cy="68.6" r="0.88" fill="#111"/>
<circle cx="463.2" cy="68.3" r="0.88" fill="#111"/>
<circle cx="463.0" cy="63.9" r="0.88" fill="#111"/>
<circle cx="459.2" cy="54.3" r="0.88" fill="#111"/>
<circle cx="461.8" cy="56.0" r="0.88" fill="#111"/>
<circle cx="467.5" cy="58.0" r="0.88" fill="#111"/>
<circle cx="464.9" cy="51.7" r="0.88" fill="#111"/>
<circle cx="472.4" cy="62.8" r="0.88" fill="#111"/>
<circle cx="473.0" cy="57.9" r="0.88" fill="#111"/>
<circle cx="469.4" cy="48.0" r="0.88" fill="#111"/>
<circle cx="479.0" cy="62.6" r="0.88" fill="#111"/>
<circle cx="478.6" cy="56.5" r="0.88" fill="#111"/>
<text x="348.7" y="91.9" font-size="9" textLength="35.5" lengthAdjust="spacingAndGlyphs" stroke="#111" stroke-width="0.5">miR-155</text>
<text x="326.4" y="104.8" font-size="9" textLength="31.2" lengthAdjust="spacingAndGlyphs" stroke="#111" stroke-width="0.5">miR-24</text>
<text x="340.8" y="146.1" font-size="9" textLength="36" lengthAdjust="spacingAndGlyphs" stroke="#111" stroke-width="0.5">miR-27a</text>
<line x1="368.8" y1="94" x2="366.29" y2="103.36" stroke="#111" stroke-width="1.15" />
<polygon points="365.10,107.80 364.41,102.85 368.17,103.86" fill="#111"/>
<line x1="344.2" y1="109.6" x2="344.2" y2="120.2" stroke="#111" stroke-width="1.15" />
<polygon points="344.20,124.80 342.25,120.20 346.15,120.20" fill="#111"/>
<line x1="338.5" y1="142" x2="334.44" y2="138.25" stroke="#111" stroke-width="1.15" />
<polygon points="331.80,135.80 335.53,137.07 333.36,139.42" fill="#111"/>
<text x="-0.3" y="221" font-size="13" font-weight="bold" stroke="#111" stroke-width="0.3">C</text>
<ellipse cx="194.6" cy="301.9" rx="54.1" ry="50.6" fill="#d9d9d9" stroke="#1a1a1a" stroke-width="1.25"/>
<ellipse cx="90.1" cy="302.2" rx="74" ry="69.8" fill="none" stroke="#1a1a1a" stroke-width="1.25"/>
<text x="81.2" y="296.4" font-size="9.6" text-anchor="middle" textLength="55" lengthAdjust="spacingAndGlyphs" stroke="#111" stroke-width="0.5">366 miRNAs</text>
<text x="81.2" y="308.4" font-size="9.6" text-anchor="middle" textLength="97.5" lengthAdjust="spacingAndGlyphs" stroke="#111" stroke-width="0.5">upregulated in glioma</text>
<text x="153" y="305.4" font-size="9.6" text-anchor="middle" stroke="#111" stroke-width="0.5">19</text>
<text x="205.9" y="293.4" font-size="9.6" text-anchor="middle" textLength="48.5" lengthAdjust="spacingAndGlyphs" stroke="#111" stroke-width="0.5">52 miRNAs</text>
<text x="205.6" y="305.4" font-size="9.6" text-anchor="middle" textLength="73.8" lengthAdjust="spacingAndGlyphs" stroke="#111" stroke-width="0.5">putatively target</text>
<text x="205.9" y="317.2" font-size="9.6" text-anchor="middle" textLength="65.8" lengthAdjust="spacingAndGlyphs" stroke="#111" stroke-width="0.5">the <tspan font-style="italic">MXI1</tspan> 3’UTR</text>
<text x="283" y="220.8" font-size="13" font-weight="bold" stroke="#111" stroke-width="0.3">D</text>
<text x="398.2" y="229.1" font-size="9.3" text-anchor="middle" stroke="#111" stroke-width="0.5">U87</text>
<line x1="337.6" y1="251.2" x2="337.6" y2="377.8" stroke="#111" stroke-width="1.4" />
<line x1="337.0" y1="377.2" x2="470" y2="377.2" stroke="#111" stroke-width="1.4" />
<line x1="333.90000000000003" y1="251.7" x2="337.6" y2="251.7" stroke="#111" stroke-width="1.4" />
<text x="331" y="255.0" font-size="9.2" text-anchor="end" textLength="11.3" lengthAdjust="spacingAndGlyphs" stroke="#111" stroke-width="0.5">1.5</text>
<line x1="333.90000000000003" y1="293.4" x2="337.6" y2="293.4" stroke="#111" stroke-width="1.4" />
<text x="331" y="296.7" font-size="9.2" text-anchor="end" textLength="11.3" lengthAdjust="spacingAndGlyphs" stroke="#111" stroke-width="0.5">1.0</text>
<line x1="333.90000000000003" y1="335.2" x2="337.6" y2="335.2" stroke="#111" stroke-width="1.4" />
<text x="331" y="338.5" font-size="9.2" text-anchor="end" textLength="13.3" lengthAdjust="spacingAndGlyphs" stroke="#111" stroke-width="0.5">0.5</text>
<line x1="333.90000000000003" y1="377.0" x2="337.6" y2="377.0" stroke="#111" stroke-width="1.4" />
<text x="331" y="380.3" font-size="9.2" text-anchor="end" textLength="13.3" lengthAdjust="spacingAndGlyphs" stroke="#111" stroke-width="0.5">0.0</text>
<rect x="348.75" y="293.6" width="43.75" height="83.59999999999997" fill="#000"/>
<line x1="371.2" y1="286.3" x2="371.2" y2="294" stroke="#111" stroke-width="1.3" />
<line x1="360.5" y1="286.3" x2="381.3" y2="286.3" stroke="#111" stroke-width="1.3" />
<rect x="415.6" y="336.1" width="42.5" height="41.099999999999966" fill="#fff" stroke="#111" stroke-width="1.4"/>
<line x1="436.7" y1="333.5" x2="436.7" y2="336" stroke="#111" stroke-width="1.4" />
<line x1="425.8" y1="333.5" x2="447.7" y2="333.5" stroke="#111" stroke-width="1.4" />
<line x1="370.8" y1="377.2" x2="370.8" y2="381.0" stroke="#111" stroke-width="1.4" />
<line x1="436.3" y1="377.2" x2="436.3" y2="381.0" stroke="#111" stroke-width="1.4" />
<text x="436.2" y="334.3" font-size="13.5" text-anchor="middle" stroke="#111" stroke-width="0.15">**</text>
<text x="398.2" y="392.8" font-size="9.3" text-anchor="middle" textLength="48.8" lengthAdjust="spacingAndGlyphs" stroke="#111" stroke-width="0.5"><tspan font-style="italic">MXI1</tspan> 3’UTR</text>
<text x="311.5" y="309" font-size="9.8" text-anchor="middle" textLength="103.5" lengthAdjust="spacingAndGlyphs" transform="rotate(-90 311.5 309)" stroke="#111" stroke-width="0.5">Relative luciferase ratio</text>
<rect x="441.3" y="252.5" width="17.5" height="9.3" rx="1" fill="#000"/>
<rect x="441.9" y="266.3" width="16.3" height="8.2" rx="1" fill="#fff" stroke="#111" stroke-width="1.2"/>
<text x="463.7" y="259.2" font-size="9.3" textLength="25.5" lengthAdjust="spacingAndGlyphs" stroke="#111" stroke-width="0.5">pCDH</text>
<text x="463.7" y="273.8" font-size="9.3" textLength="19.3" lengthAdjust="spacingAndGlyphs" stroke="#111" stroke-width="0.5">MYC</text>
<text x="15.2" y="424.2" font-size="13" font-weight="bold" stroke="#111" stroke-width="0.3">E</text>
<text x="58" y="464.6" font-size="9.3" textLength="24.5" lengthAdjust="spacingAndGlyphs" stroke="#111" stroke-width="0.5">pCDH</text>
<text x="91.2" y="464.6" font-size="9.3" textLength="18.8" lengthAdjust="spacingAndGlyphs" stroke="#111" stroke-width="0.5">MYC</text>
<text x="30" y="481.1" font-size="9.3" textLength="18.8" lengthAdjust="spacingAndGlyphs" stroke="#111" stroke-width="0.5">MYC</text>
<text x="29.2" y="520.2" font-size="9.3" textLength="19.8" lengthAdjust="spacingAndGlyphs" stroke="#111" stroke-width="0.5">MXI1</text>
<text x="16.6" y="560.2" font-size="9.3" textLength="32.4" lengthAdjust="spacingAndGlyphs" stroke="#111" stroke-width="0.5">GAPDH</text>
<text x="60" y="499" font-size="9.3" textLength="18.8" lengthAdjust="spacingAndGlyphs" stroke="#111" stroke-width="0.5">1.00</text>
<text x="93" y="499" font-size="9.3" textLength="15.8" lengthAdjust="spacingAndGlyphs" stroke="#111" stroke-width="0.5">2.13</text>
<text x="60" y="538.3" font-size="9.3" textLength="18.8" lengthAdjust="spacingAndGlyphs" stroke="#111" stroke-width="0.5">1.00</text>
<text x="91.2" y="538.3" font-size="9.3" textLength="18.8" lengthAdjust="spacingAndGlyphs" stroke="#111" stroke-width="0.5">0.29</text>
<defs>
<linearGradient id="g1" x1="0" y1="0" x2="0" y2="1"><stop offset="0" stop-color="#b6b6b6"/><stop offset="0.35" stop-color="#9e9e9e"/><stop offset="1" stop-color="#808080"/></linearGradient>
<linearGradient id="g2" x1="0" y1="0" x2="1" y2="0"><stop offset="0" stop-color="#a0a0a0"/><stop offset="0.25" stop-color="#8c8c8c"/><stop offset="0.62" stop-color="#949494"/><stop offset="0.82" stop-color="#bcbcbc"/><stop offset="1" stop-color="#c8c8c8"/></linearGradient>
<linearGradient id="g2v" x1="0" y1="0" x2="0" y2="1"><stop offset="0" stop-color="#fff" stop-opacity="0.28"/><stop offset="0.35" stop-color="#fff" stop-opacity="0.05"/><stop offset="1" stop-color="#000" stop-opacity="0.12"/></linearGradient>
<filter id="bl" x="-30%" y="-100%" width="160%" height="300%"><feGaussianBlur stdDeviation="1.8 1.2"/></filter>
<filter id="bl2" x="-30%" y="-100%" width="160%" height="300%"><feGaussianBlur stdDeviation="1.3 0.8"/></filter>
<filter id="bl3" x="-30%" y="-100%" width="160%" height="300%"><feGaussianBlur stdDeviation="0.9 0.6"/></filter>
<clipPath id="c1"><rect x="54.15" y="469.45" width="66.4" height="18.4"/></clipPath>
<clipPath id="c2"><rect x="53.85" y="507.55" width="67" height="19.8"/></clipPath>
<clipPath id="c3"><rect x="53.85" y="547.55" width="67" height="19.2"/></clipPath>
</defs>
<rect x="54.15" y="469.45" width="66.4" height="18.4" fill="url(#g1)"/>
<g clip-path="url(#c1)"><ellipse cx="74" cy="482.8" rx="8.5" ry="2.4" fill="#484848" opacity="0.7" filter="url(#bl)"/><ellipse cx="99.2" cy="482" rx="10.5" ry="3.1" fill="#000" filter="url(#bl)"/><rect x="92" y="480.3" width="14.5" height="3.2" rx="1.6" fill="#000" filter="url(#bl3)"/></g>
<rect x="54.15" y="469.45" width="66.4" height="18.4" fill="none" stroke="#111" stroke-width="1.35"/>
<rect x="53.85" y="507.55" width="67" height="19.8" fill="url(#g2)"/>
<rect x="53.85" y="507.55" width="67" height="19.8" fill="url(#g2v)"/>
<g clip-path="url(#c2)"><ellipse cx="77" cy="519.5" rx="12" ry="5.5" fill="#404040" opacity="0.75" filter="url(#bl)"/><ellipse cx="77" cy="524.5" rx="13" ry="3" fill="#505050" opacity="0.6" filter="url(#bl)"/><rect x="68.5" y="514.4" width="17" height="2.8" rx="1.4" fill="#262626" opacity="0.85" filter="url(#bl2)"/><rect x="68" y="519.3" width="18.5" height="3.2" rx="1.6" fill="#0c0c0c" filter="url(#bl2)"/><ellipse cx="98.8" cy="519" rx="9" ry="4.5" fill="#606060" opacity="0.5" filter="url(#bl)"/><rect x="91" y="514.5" width="15" height="2.2" rx="1.1" fill="#555" opacity="0.5" filter="url(#bl2)"/><rect x="91" y="519.6" width="15.5" height="2.6" rx="1.3" fill="#484848" opacity="0.6" filter="url(#bl2)"/><ellipse cx="111" cy="517.7" rx="2" ry="1.5" fill="#e0e0e0" opacity="0.45" filter="url(#bl3)"/></g>
<rect x="53.85" y="507.55" width="67" height="19.8" fill="none" stroke="#111" stroke-width="1.35"/>
<rect x="53.85" y="547.55" width="67" height="19.2" fill="#fdfdfd"/>
<g clip-path="url(#c3)"><rect x="64.2" y="556.7" width="18.5" height="3.5" rx="1.75" fill="#0a0a0a" filter="url(#bl3)"/><rect x="63.5" y="556.3" width="20" height="4.4" rx="2.2" fill="#333" opacity="0.55" filter="url(#bl2)"/><rect x="89.6" y="555.4" width="19.2" height="4.7" rx="2.3" fill="#000" filter="url(#bl3)"/><rect x="89" y="555" width="20.4" height="5.6" rx="2.8" fill="#222" opacity="0.55" filter="url(#bl2)"/></g>
<rect x="53.85" y="547.55" width="67" height="19.2" fill="none" stroke="#111" stroke-width="1.35"/>
<text x="155.3" y="424.4" font-size="13" font-weight="bold" stroke="#111" stroke-width="0.3">F</text>
<text x="334" y="433.3" font-size="9.3" text-anchor="middle" stroke="#111" stroke-width="0.5">U87</text>
<line x1="211.9" y1="445" x2="211.9" y2="570.8000000000001" stroke="#111" stroke-width="1.4" />
<line x1="211.3" y1="570.2" x2="328" y2="570.2" stroke="#111" stroke-width="1.4" />
<line x1="208.20000000000002" y1="445.3" x2="211.9" y2="445.3" stroke="#111" stroke-width="1.4" />
<text x="206.2" y="448.6" font-size="9.2" text-anchor="end" textLength="9.2" lengthAdjust="spacingAndGlyphs" stroke="#111" stroke-width="0.5">15</text>
<line x1="208.20000000000002" y1="486.9" x2="211.9" y2="486.9" stroke="#111" stroke-width="1.4" />
<text x="206.2" y="490.2" font-size="9.2" text-anchor="end" textLength="9.2" lengthAdjust="spacingAndGlyphs" stroke="#111" stroke-width="0.5">10</text>
<line x1="208.20000000000002" y1="528.6" x2="211.9" y2="528.6" stroke="#111" stroke-width="1.4" />
<text x="206.2" y="531.9" font-size="9.2" text-anchor="end" textLength="5.5" lengthAdjust="spacingAndGlyphs" stroke="#111" stroke-width="0.5">5</text>
<line x1="208.20000000000002" y1="570.2" x2="211.9" y2="570.2" stroke="#111" stroke-width="1.4" />
<text x="206.2" y="573.5" font-size="9.2" text-anchor="end" textLength="5.5" lengthAdjust="spacingAndGlyphs" stroke="#111" stroke-width="0.5">0</text>
<rect x="222" y="561.8" width="39.5" height="8.400000000000091" fill="#000"/>
<rect x="280.35" y="491.9" width="37.35" height="78.30000000000007" fill="#fff" stroke="#111" stroke-width="1.5"/>
<line x1="299.2" y1="488.7" x2="299.2" y2="491.9" stroke="#111" stroke-width="1.4" />
<line x1="289.4" y1="488.7" x2="308.7" y2="488.7" stroke="#111" stroke-width="1.4" />
<line x1="241.3" y1="570.2" x2="241.3" y2="574.0" stroke="#111" stroke-width="1.4" />
<line x1="298.8" y1="570.2" x2="298.8" y2="574.0" stroke="#111" stroke-width="1.4" />
<text x="299.5" y="489.9" font-size="13.5" text-anchor="middle" stroke="#111" stroke-width="0.15">***</text>
<text x="240.9" y="583.9" font-size="9.3" text-anchor="middle" textLength="24.3" lengthAdjust="spacingAndGlyphs" stroke="#111" stroke-width="0.5">pCDH</text>
<text x="298.8" y="583.9" font-size="9.3" text-anchor="middle" textLength="18.6" lengthAdjust="spacingAndGlyphs" stroke="#111" stroke-width="0.5">MYC</text>
<text x="174.6" y="506.1" font-size="9.8" text-anchor="middle" textLength="88.6" lengthAdjust="spacingAndGlyphs" transform="rotate(-90 174.6 506.1)" stroke="#111" stroke-width="0.5">Relative <tspan font-style="italic">MYC</tspan> mRNA</text>
<text x="185.7" y="505.8" font-size="9.8" text-anchor="middle" textLength="70.3" lengthAdjust="spacingAndGlyphs" transform="rotate(-90 185.7 505.8)" stroke="#111" stroke-width="0.5">expression level</text>
<line x1="399.5" y1="445.6" x2="399.5" y2="571.9" stroke="#111" stroke-width="1.4" />
<line x1="398.9" y1="571.3" x2="520" y2="571.3" stroke="#111" stroke-width="1.4" />
<line x1="395.8" y1="446.4" x2="399.5" y2="446.4" stroke="#111" stroke-width="1.4" />
<text x="393.2" y="449.7" font-size="9.2" text-anchor="end" textLength="11.3" lengthAdjust="spacingAndGlyphs" stroke="#111" stroke-width="0.5">1.5</text>
<line x1="395.8" y1="488.05" x2="399.5" y2="488.05" stroke="#111" stroke-width="1.4" />
<text x="393.2" y="491.35" font-size="9.2" text-anchor="end" textLength="11.3" lengthAdjust="spacingAndGlyphs" stroke="#111" stroke-width="0.5">1.0</text>
<line x1="395.8" y1="529.7" x2="399.5" y2="529.7" stroke="#111" stroke-width="1.4" />
<text x="393.2" y="533.0" font-size="9.2" text-anchor="end" textLength="13.3" lengthAdjust="spacingAndGlyphs" stroke="#111" stroke-width="0.5">0.5</text>
<line x1="395.8" y1="571.3" x2="399.5" y2="571.3" stroke="#111" stroke-width="1.4" />
<text x="393.2" y="574.5999999999999" font-size="9.2" text-anchor="end" textLength="13.3" lengthAdjust="spacingAndGlyphs" stroke="#111" stroke-width="0.5">0.0</text>
<rect x="409.5" y="488" width="40" height="83.29999999999995" fill="#000"/>
<rect x="470.25" y="559.2" width="39.0" height="12.099999999999909" fill="#fff" stroke="#111" stroke-width="1.5"/>
<line x1="479.7" y1="557.8" x2="499.2" y2="557.8" stroke="#111" stroke-width="1.5" />
<line x1="429.5" y1="571.3" x2="429.5" y2="575.0999999999999" stroke="#111" stroke-width="1.4" />
<line x1="489.2" y1="571.3" x2="489.2" y2="575.1999999999999" stroke="#111" stroke-width="1.4" />
<text x="489" y="557.2" font-size="13.5" text-anchor="middle" stroke="#111" stroke-width="0.15">***</text>
<text x="429.7" y="585.1" font-size="9.3" text-anchor="middle" textLength="24.5" lengthAdjust="spacingAndGlyphs" stroke="#111" stroke-width="0.5">pCDH</text>
<text x="489.6" y="585.1" font-size="9.3" text-anchor="middle" textLength="18.6" lengthAdjust="spacingAndGlyphs" stroke="#111" stroke-width="0.5">MYC</text>
<text x="361.4" y="507.2" font-size="9.8" text-anchor="middle" textLength="89.3" lengthAdjust="spacingAndGlyphs" transform="rotate(-90 361.4 507.2)" stroke="#111" stroke-width="0.5">Relative <tspan font-style="italic">MXI1</tspan> mRNA</text>
<text x="372.3" y="506.6" font-size="9.8" text-anchor="middle" textLength="70.3" lengthAdjust="spacingAndGlyphs" transform="rotate(-90 372.3 506.6)" stroke="#111" stroke-width="0.5">expression level</text>
</svg>
</body></html>
